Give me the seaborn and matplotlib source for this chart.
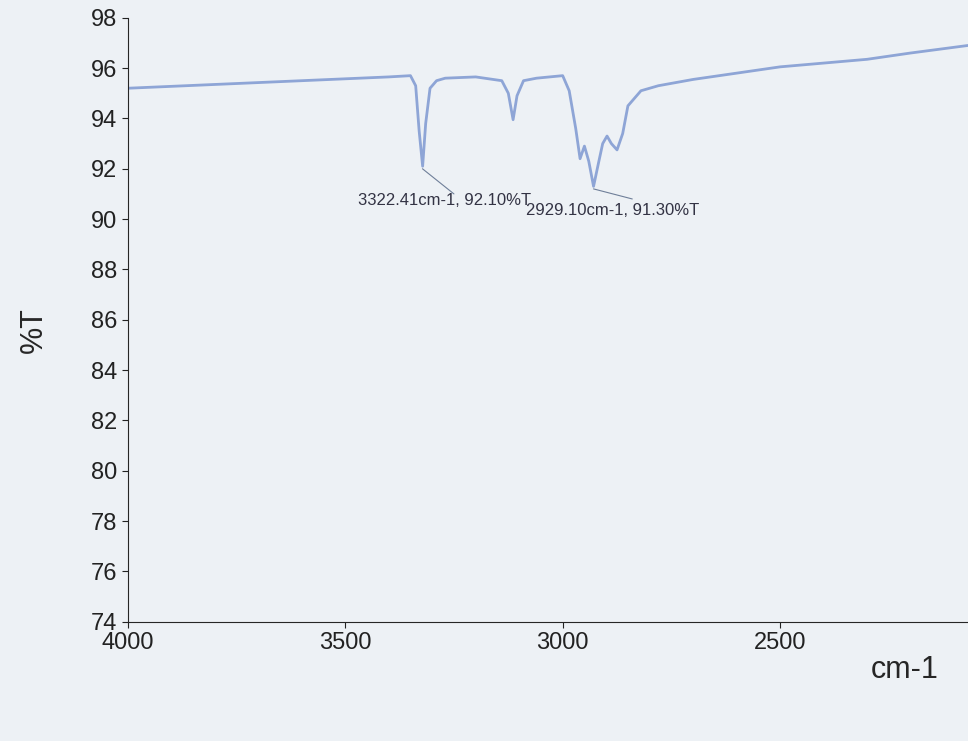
import matplotlib.pyplot as plt
import seaborn as sns
import pandas as pd

wavenumber = [4000, 3800, 3600, 3400, 3350, 3338, 3330, 3322, 3315, 3305, 3290, 3270,
              3200, 3140, 3125, 3114, 3105, 3090, 3060, 3000, 2985, 2970, 2960, 2950,
              2940, 2929, 2918, 2908, 2898, 2888, 2875, 2862, 2850, 2820, 2780, 2700,
              2600, 2500, 2400, 2300, 2200, 2068]
transmittance = [95.2, 95.35, 95.5, 95.65, 95.7, 95.3, 93.5, 92.1, 93.8, 95.2, 95.5, 95.6,
                 95.65, 95.5, 95.0, 93.95, 94.9, 95.5, 95.6, 95.7, 95.1, 93.6, 92.4, 92.9,
                 92.3, 91.3, 92.2, 93.0, 93.3, 93.0, 92.75, 93.4, 94.5, 95.1, 95.3, 95.55,
                 95.8, 96.05, 96.2, 96.35, 96.6, 96.9]

# peak x, peak y, label, label x, label y, leader end x, leader end y
annotations = [(3322.41, 92.10, "3322.41cm-1, 92.10%T", 3470, 90.75, 3250, 91.0),
               (2929.10, 91.30, "2929.10cm-1, 91.30%T", 3085, 90.35, 2840, 90.8)]

df = pd.DataFrame({"cm-1": wavenumber, "%T": transmittance})

sns.set_style("ticks")
plt.rcParams["font.family"] = ["Liberation Sans", "DejaVu Sans"]

fig = plt.figure(figsize=(9.68, 7.41), dpi=100, facecolor="#edf1f5")
ax = fig.add_axes([0.132, 0.161, 0.868, 0.815])
ax.set_facecolor("#edf1f5")
sns.lineplot(data=df, x="cm-1", y="%T", ax=ax, color="#8ea5d6", linewidth=2)

for px, py, text, tx, ty, ex, ey in annotations:
    ax.plot([px, ex], [py - 0.1, ey], color="#6f7f99", linewidth=0.8)
    ax.text(tx, ty, text, fontsize=12, color="#333344", va="center")

ax.set_xlim(4000, 2068)
ax.set_ylim(74, 98)
ax.set_xticks([4000, 3500, 3000, 2500])
ax.set_yticks(range(74, 99, 2))
ax.tick_params(labelsize=17, direction="out", length=4, colors="#222222")
ax.set_xlabel("")
ax.set_ylabel("")
fig.text(0.02, 0.555, "%T", rotation=90, fontsize=22, va="center")
fig.text(0.9, 0.085, "cm-1", fontsize=22)
sns.despine(ax=ax, right=True, top=True)

fig.savefig("out.png", dpi=100, facecolor=fig.get_facecolor())
